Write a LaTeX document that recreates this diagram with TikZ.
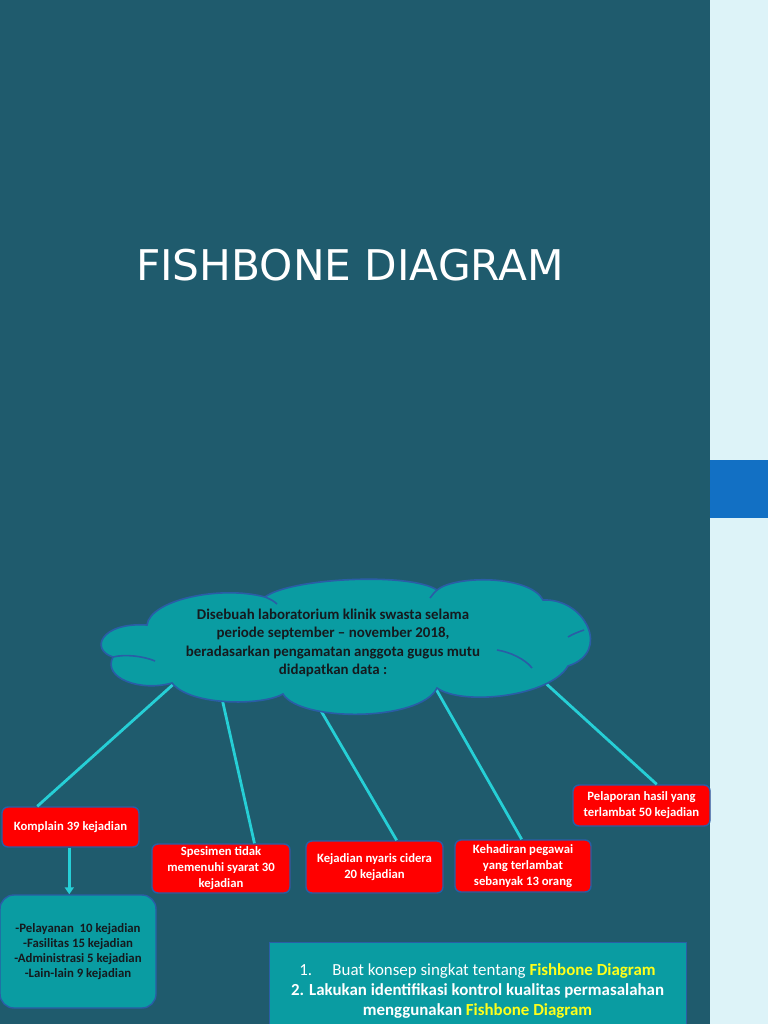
\documentclass[tikz,border=0pt]{standalone}
\usepackage{fontspec}
\setmainfont{Carlito}
\newfontfamily\titlefont{DejaVu Sans}
\usetikzlibrary{calc,arrows.meta}
\definecolor{bgdark}{HTML}{1F5B6D}
\definecolor{strip}{HTML}{DDF3F8}
\definecolor{bluebar}{HTML}{1270C4}
\definecolor{tealfill}{HTML}{0A9CA2}
\definecolor{edgeblue}{HTML}{2A5DA6}
\definecolor{cyanline}{HTML}{26CFD6}
\definecolor{boxred}{HTML}{FF0000}
\definecolor{txtdark}{HTML}{151A1E}
\definecolor{hiyellow}{HTML}{FFFF1A}
\tikzset{
  redbox/.style={draw=edgeblue, line width=1.4pt, fill=boxred, rounded corners=6pt,
    text=white, font=\fontsize{12.7}{16}\selectfont\bfseries, align=center, inner sep=0pt},
  conn/.style={draw=cyanline, line width=2.8pt},
  cloudedge/.style={draw=edgeblue, line width=1.6pt},
}
\begin{document}
\begin{tikzpicture}[x=1pt,y=-1pt]
\useasboundingbox (0,0) rectangle (768,1024);
\clip (0,0) rectangle (768,1024);
\fill[bgdark] (0,0) rectangle (710,1024);
\fill[strip] (710,0) rectangle (768,1024);
\fill[bluebar] (710,460) rectangle (768,518);

\node[text=white, font=\titlefont\fontsize{42.3}{48}\selectfont] (title) at (350,265) {FISHBONE DIAGRAM};

% connector start points on the cloud
\coordinate (c1) at (177,681);
\coordinate (c2) at (221,694);
\coordinate (c3) at (317,704);
\coordinate (c4) at (432,682);
\coordinate (c5) at (530,669);

% boxes
\node[redbox, minimum width=137pt, minimum height=40pt] (komplain) at (70.5,827) {Komplain 39 kejadian};
\node[redbox, minimum width=138pt, minimum height=49pt] (spesimen) at (221,868.5) {Spesimen tidak\\memenuhi syarat 30\\kejadian};
\node[redbox, minimum width=137pt, minimum height=52pt] (nyaris) at (374.5,867) {Kejadian nyaris cidera\\20 kejadian};
\node[redbox, minimum width=136pt, minimum height=52pt] (hadir) at (523,866) {Kehadiran pegawai\\yang terlambat\\sebanyak 13 orang};
\node[redbox, minimum width=137pt, minimum height=41pt] (lapor) at (641.5,805.5) {Pelaporan hasil yang\\terlambat 50 kejadian};

\node[draw=edgeblue, line width=1.4pt, fill=tealfill, rounded corners=14pt,
  minimum width=156pt, minimum height=113pt, inner sep=0pt, align=center,
  text=txtdark, font=\fontsize{12.8}{15}\selectfont\bfseries] (detail) at (78,951.5)
  {-Pelayanan~~10 kejadian\\-Fasilitas 15 kejadian\\-Administrasi 5 kejadian\\-Lain-lain 9 kejadian};

% connectors
\draw[conn] (c1) -- ($(komplain.north west)!0.26!(komplain.north east)$);
\draw[conn] (c2) -- ($(spesimen.north west)!0.74!(spesimen.north east)$);
\draw[conn] (c3) -- ($(nyaris.north west)!0.66!(nyaris.north east)$);
\draw[conn] (c4) -- ($(hadir.north west)!0.49!(hadir.north east)$);
\draw[conn] (c5) -- ($(lapor.north west)!0.61!(lapor.north east)$);
\coordinate (arrtop) at ($(komplain.south west)+(68,0)$);
\draw[conn, line width=2.4pt, -{Triangle[length=7pt,width=9pt]}] (arrtop) -- (arrtop |- detail.north);

% cloud
\draw[cloudedge, fill=tealfill]
  (147,625) .. controls (150,600) and (220,585) .. (265,597)
  .. controls (290,578) and (410,572) .. (437,590)
  .. controls (455,575) and (530,575) .. (543,600)
  .. controls (585,598) and (612,652) .. (568,666)
  .. controls (550,697) and (462,706) .. (437,688)
  .. controls (420,722) and (300,722) .. (283,694)
  .. controls (262,706) and (190,706) .. (172,683)
  .. controls (140,692) and (102,678) .. (113,657)
  .. controls (90,650) and (100,622) .. (147,625) -- cycle;
\draw[cloudedge] (113,657) .. controls (125,654) and (143,656) .. (155,661);
\draw[cloudedge] (497,650) .. controls (510,652) and (525,659) .. (532,668);
\draw[cloudedge] (568,637) .. controls (573,634) and (578,632) .. (584,630);
\draw[cloudedge] (265,597) .. controls (270,599) and (274,601) .. (277,604);
\draw[cloudedge] (437,590) .. controls (434,593) and (432,595) .. (430,598);
\node[text=txtdark, align=center, font=\fontsize{14.9}{18.5}\selectfont\bfseries] (cloudtext) at (333,643)
  {Disebuah laboratorium klinik swasta selama\\periode september -- november 2018,\\beradasarkan pengamatan anggota gugus mutu\\didapatkan data :};

% bottom task box
\node[draw=edgeblue, line width=1.4pt, fill=tealfill, minimum width=417pt, minimum height=110pt,
  inner sep=0pt, anchor=north west] (task) at (269,942) {};
\node[text=white, align=center, font=\fontsize{16.9}{20}\selectfont] (tasktext) at (477.5,991)
  {1.\hspace{1.2em}Buat konsep singkat tentang \textcolor{hiyellow}{\bfseries Fishbone Diagram}\\
   \bfseries 2. Lakukan identifikasi kontrol kualitas permasalahan\\
   \bfseries menggunakan \textcolor{hiyellow}{Fishbone Diagram}};
\end{tikzpicture}
\end{document}
